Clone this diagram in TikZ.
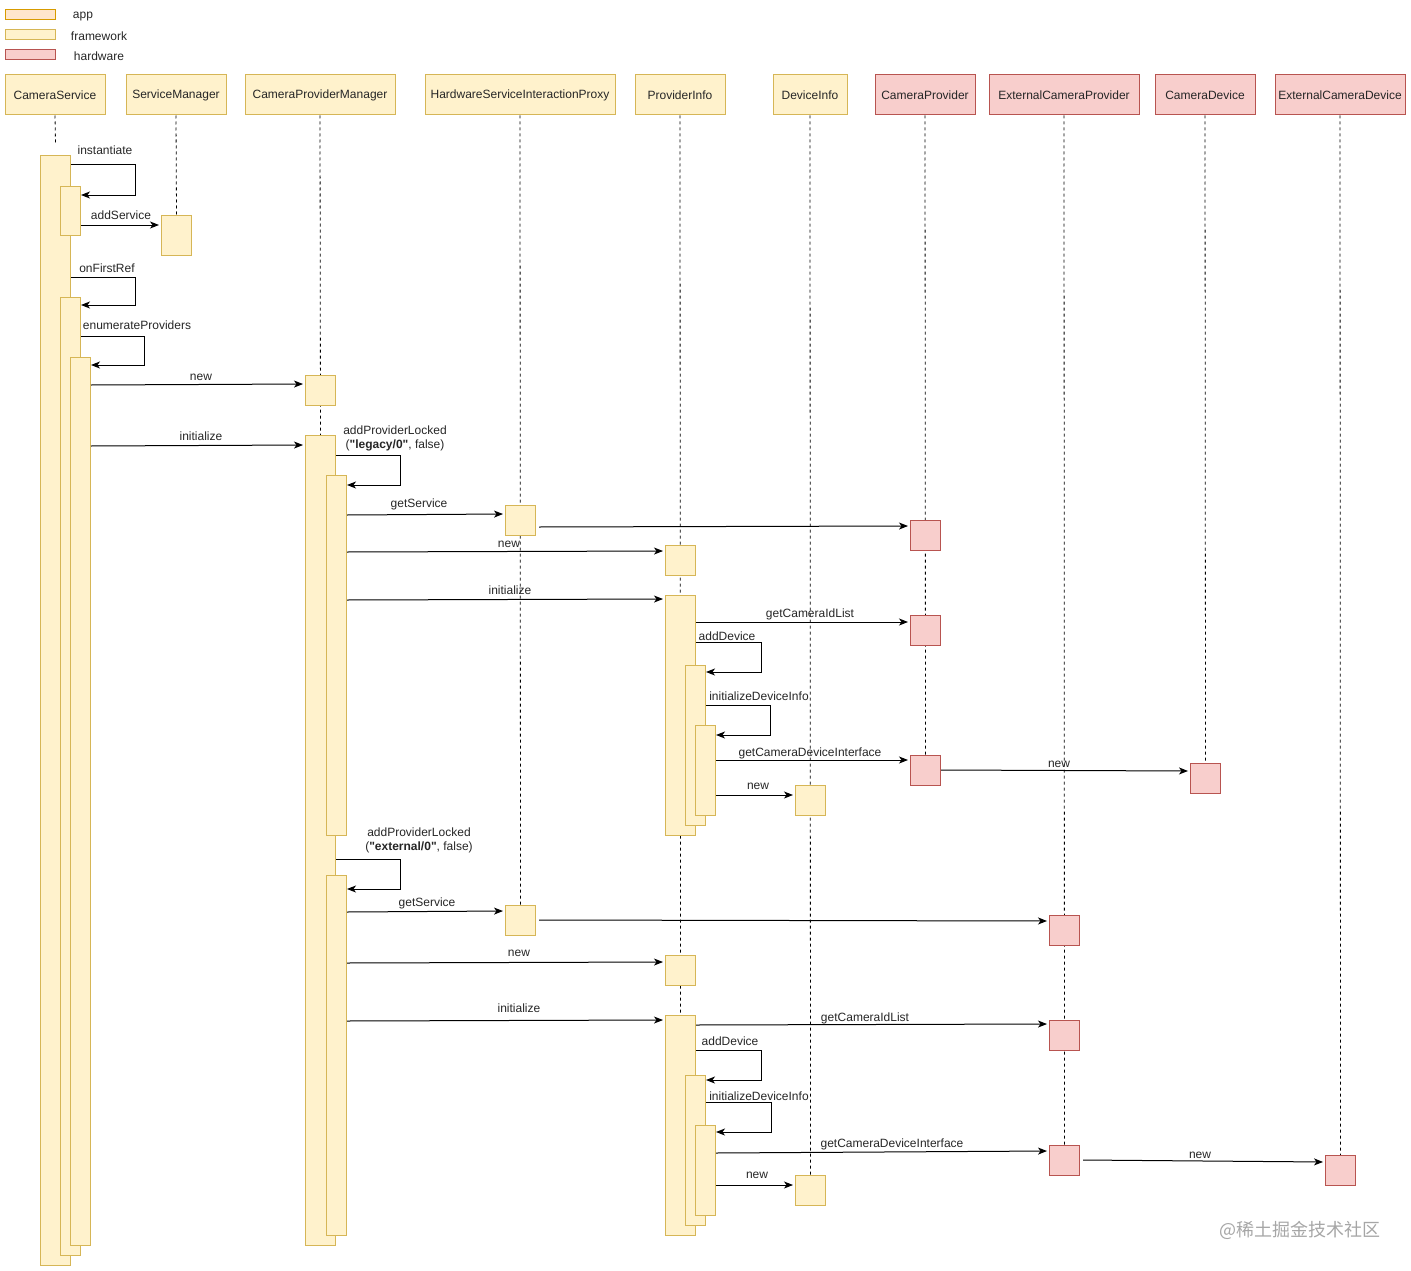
\documentclass[tikz,border=0pt]{standalone}
\usepackage{fontspec}
\setmainfont{Liberation Sans}
\newfontfamily\cjkfont{Noto Sans CJK SC}
\usetikzlibrary{positioning, arrows.meta, calc, backgrounds}
\definecolor{fwfill}{HTML}{FFF2CC}
\definecolor{fwline}{HTML}{D6B656}
\definecolor{hwfill}{HTML}{F8CECC}
\definecolor{hwline}{HTML}{B85450}
\definecolor{appfill}{HTML}{FFE6CC}
\definecolor{appline}{HTML}{D79B00}

% activation bar: name, x, y (top left), width, height, style
\newcommand{\actbar}[6]{%
  \node[#6, anchor=north west, minimum width=#4, minimum height=#5] (#1) at (#2,#3) {};}

\begin{document}
\begin{tikzpicture}[
  x=1pt, y=-1pt, font=\fontsize{12}{14}\selectfont,
  >={Stealth[length=9pt, width=7pt, inset=2.5pt]},
  fw/.style={draw=fwline, fill=fwfill, line width=1pt, inner sep=0pt},
  hw/.style={draw=hwline, fill=hwfill, line width=1pt, inner sep=0pt},
  app/.style={draw=appline, fill=appfill, line width=1pt, inner sep=0pt},
  head/.style={minimum height=40, text=black!85},
  life/.style={line width=0.8pt, dash pattern=on 3pt off 3pt},
  msg/.style={->, line width=1pt, shorten >=2pt},
  self/.style={->, line width=1pt},
  lbl/.style={inner sep=1pt, text=black!85},
]
\useasboundingbox (0,0) rectangle (1411,1271);

% Legend
\node[app, minimum width=50, minimum height=10] (kApp) at (30,15) {};
\node[lbl] (kAppT) at (83,17) {app};
\node[fw, minimum width=50, minimum height=10] (kFw) at (30,35) {};
\node[lbl] (kFwT) at (99,36) {framework};
\node[hw, minimum width=50, minimum height=10] (kHw) at (30,55) {};
\node[lbl] (kHwT) at (99,56) {hardware};

% Lifeline heads
\node[fw, head, minimum width=100] (hCS) at (55,95) {CameraService};
\node[fw, head, minimum width=100] (hSM) at (176,95) {ServiceManager};
\node[fw, head, minimum width=150] (hCPM) at (320,95) {CameraProviderManager};
\node[fw, head, minimum width=190] (hHSIP) at (520,95) {HardwareServiceInteractionProxy};
\node[fw, head, minimum width=90] (hPI) at (680,95) {ProviderInfo};
\node[fw, head, minimum width=74] (hDI) at (810,95) {DeviceInfo};
\node[hw, head, minimum width=100] (hCP) at (925,95) {CameraProvider};
\node[hw, head, minimum width=150] (hECP) at (1064,95) {ExternalCameraProvider};
\node[hw, head, minimum width=100] (hCD) at (1205,95) {CameraDevice};
\node[hw, head, minimum width=130] (hECD) at (1340,95) {ExternalCameraDevice};

% CameraService bars
\actbar{cs1}{40}{155}{30}{1110}{fw}
\actbar{cs2}{60}{186}{20}{49}{fw}
\actbar{cs3}{60}{297}{20}{958}{fw}
\actbar{cs4}{70}{357}{20}{888}{fw}
% ServiceManager
\actbar{sm1}{161}{215}{30}{40}{fw}
% CameraProviderManager
\actbar{cpm1}{305}{375}{30}{30}{fw}
\actbar{cpm2}{305}{435}{30}{810}{fw}
\actbar{cpm3}{326}{475}{20}{360}{fw}
\actbar{cpm4}{326}{875}{20}{360}{fw}
% HardwareServiceInteractionProxy
\actbar{hs1}{505}{505}{30}{30}{fw}
\actbar{hs2}{505}{905}{30}{30}{fw}
% ProviderInfo
\actbar{pi1}{665}{545}{30}{30}{fw}
\actbar{pi2}{665}{595}{30}{240}{fw}
\actbar{pi3}{685}{665}{20}{160}{fw}
\actbar{pi4}{695}{725}{20}{90}{fw}
\actbar{pi5}{665}{955}{30}{30}{fw}
\actbar{pi6}{665}{1015}{30}{220}{fw}
\actbar{pi7}{685}{1075}{20}{150}{fw}
\actbar{pi8}{695}{1125}{20}{90}{fw}
% DeviceInfo
\actbar{di1}{795}{785}{30}{30}{fw}
\actbar{di2}{795}{1175}{30}{30}{fw}
% CameraProvider / ExternalCameraProvider
\actbar{cp1}{910}{520}{30}{30}{hw}
\actbar{cp2}{910}{615}{30}{30}{hw}
\actbar{cp3}{910}{755}{30}{30}{hw}
\actbar{ecp1}{1049}{915}{30}{30}{hw}
\actbar{ecp2}{1049}{1020}{30}{30}{hw}
\actbar{ecp3}{1049}{1145}{30}{30}{hw}
% CameraDevice / ExternalCameraDevice
\actbar{cd1}{1190}{763}{30}{30}{hw}
\actbar{ecd1}{1325}{1155}{30}{30}{hw}

% Lifelines
\begin{scope}[on background layer]
  \draw[life] (hCS.south) -- ([yshift=12pt]cs1.north);
  \draw[life] (hSM.south) -- (sm1.north);
  \draw[life] (hCPM.south) -- (cpm2.north);
  \draw[life] (hHSIP.south) -- (hs2.north);
  \draw[life] (hPI.south) -- (pi6.north);
  \draw[life] (hDI.south) -- (di2.north);
  \draw[life] (hCP.south) -- (cp3.north);
  \draw[life] (hECP.south) -- (ecp3.north);
  \draw[life] (hCD.south) -- (cd1.north);
  \draw[life] (hECD.south) -- (ecd1.north);
\end{scope}

% CameraService startup
\draw[self] (cs1.east |- 0,165) -| (135,195) -- (cs2.east |- 0,195);
\node[lbl] (mInst) at (105,150) {instantiate};
\draw[msg] (cs2.east |- 0,225) -- (sm1.west |- 0,225);
\node[lbl] (mAdd) at (121,215) {addService};
\draw[self] (cs1.east |- 0,277) -| (135,305) -- (cs3.east |- 0,305);
\node[lbl] (mRef) at (107,268) {onFirstRef};
\draw[self] (cs3.east |- 0,336) -| (144,365) -- (cs4.east |- 0,365);
\node[lbl] (mEnum) at (137,325) {enumerateProviders};
\draw[msg] (cs4.east |- 0,385) -- (cpm1.west |- 0,384);
\node[lbl] (mNew) at (201,377) {new};
\draw[msg] (cs4.east |- 0,446) -- (cpm2.west |- 0,445);
\node[lbl] (mInit) at (201,436) {initialize};

% legacy/0 provider
\draw[self] (cpm2.east |- 0,455) -| (400,485) -- (cpm3.east |- 0,485);
\node[lbl, align=center] (lAdd) at (395,438)
  {addProviderLocked\\(\textbf{\textquotedbl legacy/0\textquotedbl}, false)};
\draw[msg] (cpm3.east |- 0,515) -- (hs1.west |- 0,514);
\node[lbl] (lGet) at (419,504) {getService};
\draw[msg] ([xshift=3pt]hs1.east |- 0,527) -- (cp1.west |- 0,526);
\draw[msg] (cpm3.east |- 0,552) -- (pi1.west |- 0,551);
\node[lbl] (lNew) at (509,544) {new};
\draw[msg] (cpm3.east |- 0,600) -- (pi2.west |- 0,599);
\node[lbl] (lInit) at (510,590) {initialize};
\draw[msg] (pi2.east |- 0,622) -- (cp2.west |- 0,622);
\node[lbl] (lIds) at (810,614) {getCameraIdList};
\draw[self] (pi2.east |- 0,642) -| (761,672) -- (pi3.east |- 0,672);
\node[lbl] (lDev) at (727,636) {addDevice};
\draw[self] (pi3.east |- 0,705) -| (770,735) -- (pi4.east |- 0,735);
\node[lbl] (lDevInit) at (759,696) {initializeDeviceInfo};
\draw[msg] (pi4.east |- 0,760) -- (cp3.west |- 0,760);
\node[lbl] (lIface) at (810,753) {getCameraDeviceInterface};
\draw[msg] (cp3.east |- 0,770) -- (cd1.west |- 0,771);
\node[lbl] (lNewCD) at (1059,764) {new};
\draw[msg] (pi4.east |- 0,795) -- (di1.west |- 0,795);
\node[lbl] (lNewDI) at (758,786) {new};

% external/0 provider
\draw[self] (cpm2.east |- 0,859) -| (400,889) -- (cpm4.east |- 0,889);
\node[lbl, align=center] (eAdd) at (419,840)
  {addProviderLocked\\(\textbf{\textquotedbl external/0\textquotedbl}, false)};
\draw[msg] (cpm4.east |- 0,912) -- (hs2.west |- 0,911);
\node[lbl] (eGet) at (427,903) {getService};
\draw[msg] ([xshift=3pt]hs2.east |- 0,920) -- (ecp1.west |- 0,921);
\draw[msg] (cpm4.east |- 0,963) -- (pi5.west |- 0,962);
\node[lbl] (eNew) at (519,953) {new};
\draw[msg] (cpm4.east |- 0,1021) -- (pi6.west |- 0,1020);
\node[lbl] (eInit) at (519,1008) {initialize};
\draw[msg] (pi6.east |- 0,1025) -- (ecp2.west |- 0,1024);
\node[lbl] (eIds) at (865,1018) {getCameraIdList};
\draw[self] (pi6.east |- 0,1050) -| (761,1080) -- (pi7.east |- 0,1080);
\node[lbl] (eDev) at (730,1041) {addDevice};
\draw[self] (pi7.east |- 0,1102) -| (771,1132) -- (pi8.east |- 0,1132);
\node[lbl] (eDevInit) at (759,1096) {initializeDeviceInfo};
\draw[msg] (pi8.east |- 0,1153) -- (ecp3.west |- 0,1151);
\node[lbl] (eIface) at (892,1144) {getCameraDeviceInterface};
\draw[msg] ([xshift=3pt]ecp3.east |- 0,1160) -- (ecd1.west |- 0,1162);
\node[lbl] (eNewCD) at (1200,1155) {new};
\draw[msg] (pi8.east |- 0,1185) -- (di2.west |- 0,1185);
\node[lbl] (eNewDI) at (757,1175) {new};

% watermark
\node[text=black!35, font=\cjkfont\fontsize{18}{20}\selectfont] (mark) at (1300,1230) {@稀土掘金技术社区};
\end{tikzpicture}
\end{document}
